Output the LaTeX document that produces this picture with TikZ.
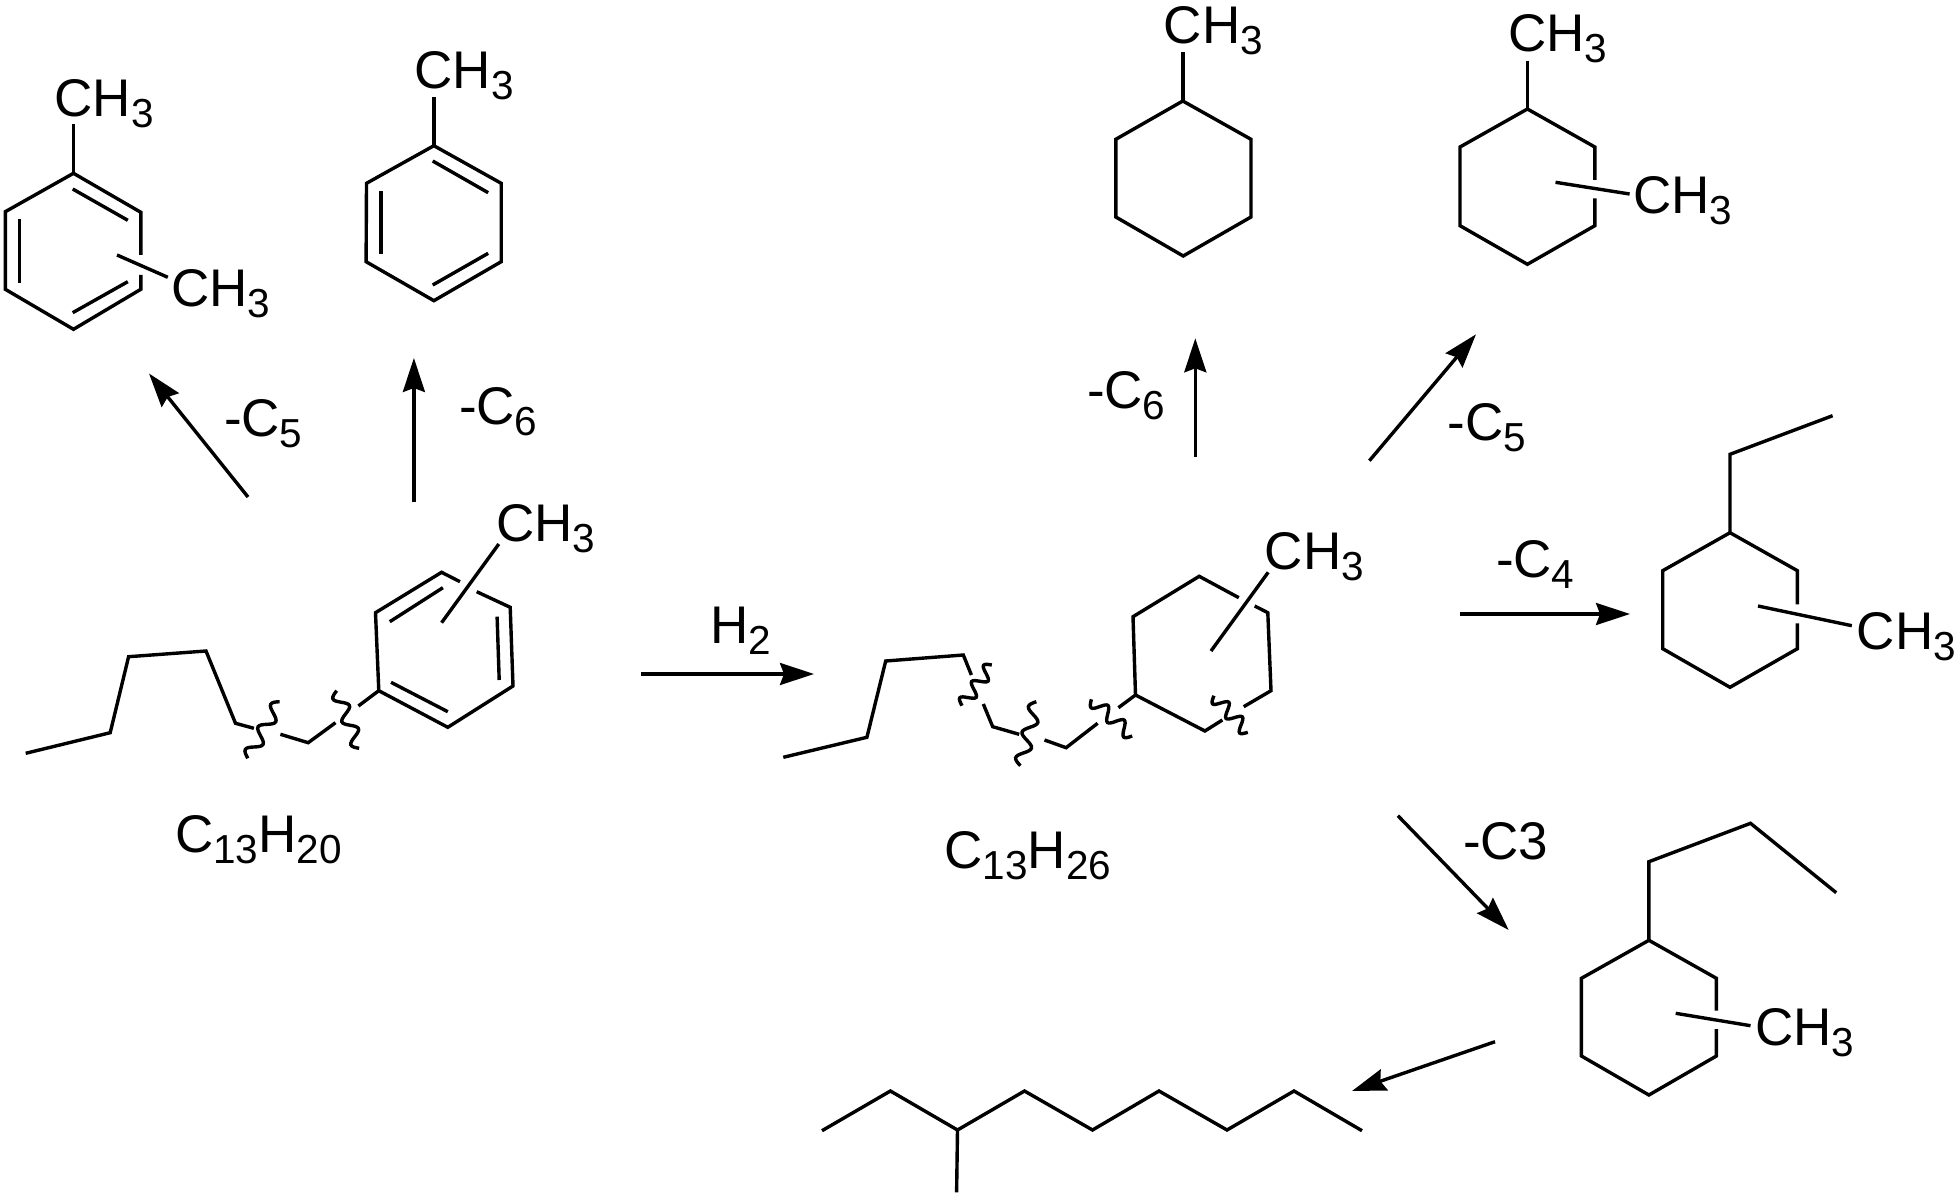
\documentclass[tikz,border=0pt]{standalone}
\usepackage{fontspec}
\setmainfont{Liberation Sans}
\usetikzlibrary{arrows.meta}
\newcommand{\lowered}[1]{\raisebox{-11pt}{\fontsize{40.5}{44}\selectfont #1}}
\newcommand{\wavebond}[4]{%
  \pgfmathsetmacro{\wdx}{#3-#1}\pgfmathsetmacro{\wdy}{#4-#2}%
  \pgfmathsetmacro{\wlen}{sqrt(\wdx*\wdx+\wdy*\wdy)}%
  \draw[bond] plot[smooth,samples=41,domain=0:1,variable=\t]
    ({#1+\wdx*\t-\wdy/\wlen*6.5*sin(900*\t)},{#2+\wdy*\t+\wdx/\wlen*6.5*sin(900*\t)});}
\tikzset{
  bond/.style={line width=3.4pt,black},
  rxn/.style={line width=3.4pt,black,-{Stealth[length=34pt,width=22pt,inset=4pt]}},
  chem/.style={anchor=base west,inner sep=0pt,outer sep=0pt,font=\fontsize{53}{60}\selectfont},
  x=1pt,y=-1pt
}
\begin{document}
\begin{tikzpicture}
\useasboundingbox (0,0) rectangle (1960,1198);

% --- m-xylene, top left
\draw[bond] (140.8,255) -- (140.8,212.3) -- (73.5,173.3) -- (5.3,211.7) -- (5.3,289.3) -- (73.5,329.3) -- (140.8,289.3) -- (140.8,275);
\draw[bond] (72.7,189) -- (127.8,220.3);
\draw[bond] (19.6,219.3) -- (19.6,282.7);
\draw[bond] (72.7,312.7) -- (127.8,281.7);
\node[chem] (xa) at (54.5,116.7) {CH\lowered{3}};
\node[chem] (xb) at (171,307) {CH\lowered{3}};
\draw[bond] (73.5,124) -- (73.5,173.3);
\draw[bond] (117,255) -- (167.8,277.3);

% --- toluene
\draw[bond] (433.9,145.7) -- (501.2,183.3) -- (501.2,261.7) -- (433.9,300.7) -- (366.1,261.7) -- (366.5,183.3) -- cycle;
\draw[bond] (432.7,161) -- (488.2,192.7);
\draw[bond] (380.8,191) -- (380.8,254.3);
\draw[bond] (432.7,285) -- (488.2,253.3);
\node[chem] (ta) at (414.5,88.3) {CH\lowered{3}};
\draw[bond] (433.9,96.7) -- (433.9,145.7);

% --- C13H20
\draw[bond] (25.7,753.3) -- (110.2,732.7) -- (128.6,656.7) -- (206,651) -- (235.5,723.3) -- (253.9,728.3);
\wavebond{279.6}{701.7}{247.8}{758.3}
\draw[bond] (280.4,734.3) -- (308.2,742.7) -- (335.5,722.7);
\wavebond{336.7}{690.7}{359.2}{748.3}
\draw[bond] (358.4,706) -- (378.8,690.7);
\draw[bond] (460,581.7) -- (441.6,572.3) -- (375.5,612.7) -- (378.8,690.7) -- (447.8,727.3) -- (513,686) -- (510.2,607.3) -- (476.7,591.7);
\draw[bond] (389.8,621.7) -- (442.9,587.7);
\draw[bond] (497.1,616.7) -- (499.2,680);
\draw[bond] (391,682.3) -- (447.8,711.7);
\draw[bond] (441.6,622.7) -- (498.8,544);
\node[chem] (ba) at (496.3,541) {CH\lowered{3}};
\node[chem] (fa) at (175,852.3) {C\lowered{13}H\lowered{20}};

% --- C13H26
\draw[bond] (783.3,757.3) -- (866.9,737.3) -- (885.7,661) -- (963.3,655) -- (971.4,675);
\wavebond{991.8}{665}{962}{705.7}
\draw[bond] (983.3,704) -- (992.7,726.7) -- (1019.2,734.3);
\wavebond{1036.3}{701.7}{1020.4}{765.7}
\draw[bond] (1044.5,740) -- (1066.1,747.7) -- (1097.6,723.3);
\wavebond{1091.4}{699.3}{1132.2}{736}
\draw[bond] (1118.4,707.7) -- (1135.5,695);
\draw[bond] (1238.8,597.7) -- (1199.2,576.3) -- (1133,616.7) -- (1135.5,695) -- (1204.9,731) -- (1222.4,720);
\draw[bond] (1254.7,606) -- (1267.8,612.7) -- (1271,690.7) -- (1243.7,706.7);
\wavebond{1213.9}{695.7}{1247.8}{732.3}
\draw[bond] (1211,651) -- (1268.2,572.3);
\node[chem] (ca) at (1264.8,569.3) {CH\lowered{3}};
\node[chem] (fb) at (944.5,868.3) {C\lowered{13}H\lowered{26}};

% --- methylcyclohexane
\draw[bond] (1182.8,101) -- (1251,139.3) -- (1251,217) -- (1183.2,256) -- (1115.8,217) -- (1115.8,139.3) -- cycle;
\draw[bond] (1182.8,52.3) -- (1182.8,101);
\node[chem] (ma) at (1163.8,43.3) {CH\lowered{3}};

% --- dimethylcyclohexane
\draw[bond] (1594.8,180) -- (1594.8,147) -- (1527.4,109) -- (1460,147) -- (1460,225.7) -- (1527.4,264.3) -- (1594.8,225.7) -- (1594.8,198.3);
\draw[bond] (1527.4,60.7) -- (1527.4,109);
\draw[bond] (1555.5,182.3) -- (1629.6,194);
\node[chem] (da) at (1508.4,51.7) {CH\lowered{3}};
\node[chem] (db) at (1633.4,213.3) {CH\lowered{3}};

% --- ethyl-methylcyclohexane
\draw[bond] (1797.4,604.3) -- (1797.4,570.7) -- (1730,532.7) -- (1662.7,570.7) -- (1662.7,648.7) -- (1730,687.3) -- (1797.4,648.7) -- (1797.4,623.3);
\draw[bond] (1730,532.7) -- (1730,454.3) -- (1832.6,415.7);
\draw[bond] (1758,606) -- (1851.8,625.7);
\node[chem] (ea) at (1856.9,649.3) {CH\lowered{3}};

% --- propyl-methylcyclohexane
\draw[bond] (1716.4,1010.7) -- (1716.4,978.3) -- (1648.9,940.3) -- (1581.4,978.3) -- (1581.4,1056) -- (1648.9,1095) -- (1716.4,1056) -- (1716.4,1029);
\draw[bond] (1648.9,940.3) -- (1648.9,861.7) -- (1750.5,823.3) -- (1836.2,892.7);
\draw[bond] (1675.7,1013.3) -- (1750.5,1025.7);
\node[chem] (pa) at (1755.2,1045) {CH\lowered{3}};

% --- branched alkane
\draw[bond] (822,1130.7) -- (890.4,1091) -- (957.5,1130) -- (1024.5,1091) -- (1092.5,1130) -- (1159,1091) -- (1227,1130) -- (1294,1091) -- (1362,1130.7);
\draw[bond] (957.5,1130) -- (956.6,1192.3);

% --- reaction arrows
\coordinate (a1s) at (248,497);     \coordinate (a1e) at (149,373.5);
\coordinate (a2s) at (413.9,502);   \coordinate (a2e) at (413.9,358);
\coordinate (a3s) at (641,674);     \coordinate (a3e) at (814,674);
\coordinate (a4s) at (1195.3,456.7);\coordinate (a4e) at (1195.3,338.3);
\coordinate (a5s) at (1369.4,460.7);\coordinate (a5e) at (1476,334.3);
\coordinate (a6s) at (1459.5,614);  \coordinate (a6e) at (1630,614);
\coordinate (a7s) at (1397.9,815.7);\coordinate (a7e) at (1508.7,930);
\coordinate (a8s) at (1495,1041.7); \coordinate (a8e) at (1352,1091);
\foreach \n in {1,...,8} {\draw[rxn] (a\n s) -- (a\n e);}

\node[chem] (la) at (224,436.7) {-C\lowered{5}};
\node[chem] (lb) at (459,424) {-C\lowered{6}};
\node[chem] (lc) at (710,643) {H\lowered{2}};
\node[chem] (ld) at (1087,408.3) {-C\lowered{6}};
\node[chem] (le) at (1447.5,440.7) {-C\lowered{5}};
\node[chem] (lf) at (1496,577.3) {-C\lowered{4}};
\node[chem] (lg) at (1463,859.3) {-C3};
\end{tikzpicture}
\end{document}
